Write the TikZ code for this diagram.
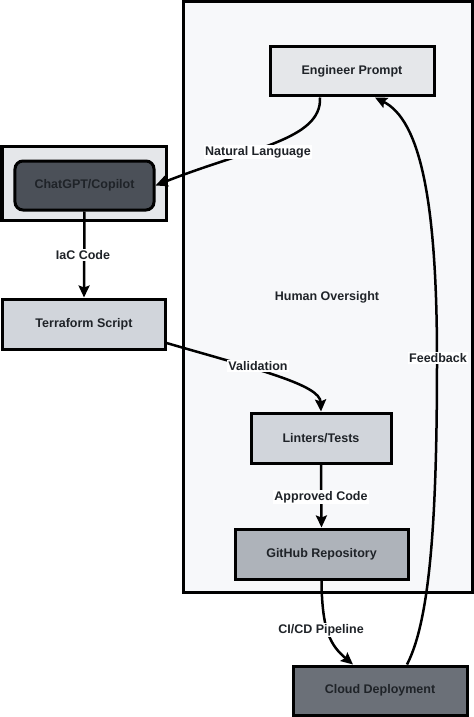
\documentclass[tikz,border=0pt]{standalone}
\usepackage{fontspec}
\setmainfont{Liberation Sans}
\usepackage{tikz}
\usetikzlibrary{positioning}
\usetikzlibrary{arrows.meta}
\definecolor{groupbg}{HTML}{F7F8FA}
\definecolor{promptbg}{HTML}{E5E7EA}
\definecolor{aibg}{HTML}{4B5058}
\definecolor{scriptbg}{HTML}{D1D5DB}
\definecolor{repobg}{HTML}{AEB3BA}
\definecolor{cloudbg}{HTML}{6B7078}
\definecolor{txt}{HTML}{1F2328}
\tikzset{box/.style={draw=black, line width=3bp, text=txt, font=\fontsize{12.5bp}{15bp}\selectfont\bfseries}}
\tikzset{edgearr/.style={line width=2.5bp, -{Stealth[length=12bp,width=11bp,inset=2bp]}}}
\tikzset{lbl/.style={fill=white, inner sep=1.5bp, text=txt, font=\fontsize{12.5bp}{15bp}\selectfont\bfseries}}

\begin{document}
\begin{tikzpicture}[x=1bp,y=-1bp]
\useasboundingbox (0,0) rectangle (474,717);
\draw[line width=3bp, fill=groupbg] (183,2) rectangle (472,592);
\node[lbl, fill=none] (oversight) at (327,297) {Human Oversight};
\draw[line width=3bp, fill=promptbg] (2,146) rectangle (166,220);
\node[box, fill=promptbg, minimum width=164bp, minimum height=49bp] (prompt) at (352,71.5) {Engineer Prompt};
\node[box, fill=aibg, rounded corners=8bp, minimum width=139bp, minimum height=49bp] (chatgpt) at (84.5,185.5) {ChatGPT/Copilot};
\node[box, fill=scriptbg, minimum width=162bp, minimum height=50bp] (terraform) at (84,324) {Terraform Script};
\node[box, fill=scriptbg, minimum width=140bp, minimum height=50bp] (linters) at (321,438) {Linters/Tests};
\node[box, fill=repobg, minimum width=173bp, minimum height=50bp] (github) at (321.5,554) {GitHub Repository};
\node[box, fill=cloudbg, minimum width=174bp, minimum height=49bp] (cloud) at (380,690.5) {Cloud Deployment};
\coordinate (fbmid) at (437,360);
\draw[edgearr] ([xshift=-32bp]prompt.south) .. controls (322,140) and (250,148) .. (chatgpt.east);
\draw[edgearr] (chatgpt.south) -- (terraform.north);
\draw[edgearr] ([yshift=-19bp]terraform.east) .. controls (260,370) and (320,385) .. (linters.north);
\draw[edgearr] (linters.south) -- (github.north);
\draw[edgearr] (github.south) .. controls (322,630) and (330,645) .. ([xshift=-27bp]cloud.north);
\draw[edgearr] ([xshift=27bp]cloud.north) .. controls (430,620) and (437,520) .. (fbmid) .. controls (437,200) and (420,120) .. ([xshift=23bp]prompt.south);
\node[lbl] (natlang) at (258,152) {Natural Language};
\node[lbl] (iac) at (83,255) {IaC Code};
\node[lbl] (valid) at (258,366) {Validation};
\node[lbl] (approved) at (321,497) {Approved Code};
\node[lbl] (cicd) at (321,630) {CI/CD Pipeline};
\node[lbl] (feedback) at (438,358) {Feedback};
\end{tikzpicture}
\end{document}
